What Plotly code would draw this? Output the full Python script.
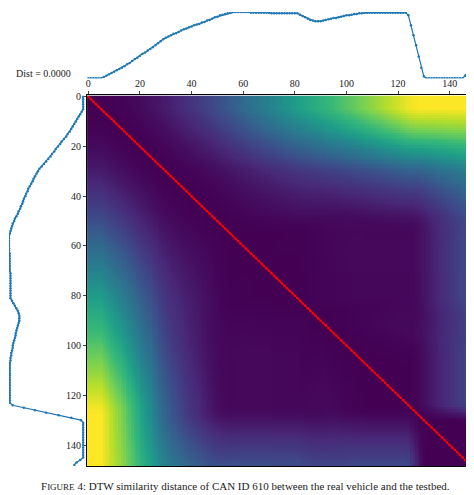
import numpy as np
import plotly.graph_objects as go

# signal (149 samples, normalised 0..1)
signal = [
    0, 0, 0, 0, 0, 0, 0.02, 0.04, 0.06, 0.08,
    0.10, 0.12, 0.14, 0.16, 0.18, 0.21, 0.23, 0.26, 0.29, 0.31,
    0.34, 0.37, 0.39, 0.42, 0.44, 0.47, 0.50, 0.53, 0.56, 0.59,
    0.61, 0.63, 0.65, 0.67, 0.68, 0.70, 0.72, 0.74, 0.75, 0.77,
    0.78, 0.80, 0.81, 0.82, 0.84, 0.85, 0.87, 0.88, 0.90, 0.92,
    0.93, 0.95, 0.96, 0.97, 0.98, 0.99, 1.0, 1.0, 1.0, 1.0,
    1.0, 1.0, 1.0, 0.99, 0.99, 0.99, 0.99, 0.99, 0.99, 0.99,
    0.99, 0.98, 0.98, 0.98, 0.98, 0.98, 0.98, 0.98, 0.98, 0.98,
    0.98, 0.98, 0.96, 0.94, 0.92, 0.90, 0.88, 0.87, 0.86, 0.86,
    0.86, 0.87, 0.88, 0.89, 0.90, 0.91, 0.91, 0.92, 0.93, 0.94,
    0.95, 0.95, 0.96, 0.97, 0.97, 0.98, 0.98, 0.99, 0.99, 0.99,
    0.99, 0.99, 0.99, 0.99, 0.99, 0.99, 0.99, 0.99, 0.99, 0.99,
    0.99, 0.99, 0.99, 0.99, 0.95, 0.80, 0.65, 0.50, 0.33, 0.16,
    0.03, 0, 0, 0, 0, 0, 0, 0, 0, 0,
    0, 0, 0, 0, 0, 0, 0.04, 0.09, 0.12,
]
dist_label = "Dist = 0.0000"
caption = ("F<span style='font-size:9px'>IGURE</span> 4: DTW similarity distance "
           "of CAN ID 610 between the real vehicle and the testbed.")

s = np.array(signal)
n = len(s)
idx = np.arange(n)

# accumulated DTW cost matrix of the signal against itself
local = np.abs(s[:, None] - s[None, :])
acc = np.zeros((n, n))
for i in range(n):
    for j in range(n):
        if i == 0 and j == 0:
            prev = 0
        elif i == 0:
            prev = acc[i, j - 1]
        elif j == 0:
            prev = acc[i - 1, j]
        else:
            prev = min(acc[i - 1, j], acc[i, j - 1], acc[i - 1, j - 1])
        acc[i, j] = local[i, j] + prev

blue = "#1f77b4"
fig = go.Figure()
fig.add_trace(go.Heatmap(z=acc, x=idx, y=idx, colorscale="Viridis",
                         showscale=False, xaxis="x", yaxis="y"))
fig.add_trace(go.Scatter(x=idx, y=idx, mode="lines+markers",
                         line=dict(color="red", width=1.2),
                         marker=dict(size=2.5, color="red"),
                         xaxis="x", yaxis="y"))
fig.add_trace(go.Scatter(x=idx, y=s, mode="lines+markers",
                         line=dict(color=blue, width=1.2),
                         marker=dict(size=2.5, color=blue),
                         xaxis="x2", yaxis="y2"))
fig.add_trace(go.Scatter(x=s, y=idx, mode="lines+markers",
                         line=dict(color=blue, width=1.2),
                         marker=dict(size=2.5, color=blue),
                         xaxis="x3", yaxis="y3"))

tickfont = dict(family="Liberation Serif", size=10, color="#222")
fig.update_layout(
    width=474, height=495, showlegend=False,
    margin=dict(l=0, r=0, t=0, b=0),
    plot_bgcolor="rgba(0,0,0,0)", paper_bgcolor="white",
    xaxis=dict(domain=[0.165, 0.978], side="top", range=[-0.5, n - 0.5],
               tickvals=list(range(0, 141, 20)), ticks="outside", ticklen=3,
               tickfont=tickfont, showgrid=False, zeroline=False,
               showline=True, linecolor="black", mirror=True),
    yaxis=dict(domain=[0.075, 0.83], range=[n - 0.5, -0.5],
               tickvals=list(range(0, 141, 20)), ticks="outside", ticklen=3,
               tickfont=tickfont, showgrid=False, zeroline=False,
               showline=True, linecolor="black", mirror=True),
    xaxis2=dict(domain=[0.165, 0.978], range=[-0.5, n - 0.5], visible=False,
                anchor="y2"),
    yaxis2=dict(domain=[0.865, 1.0], range=[0.0, 1.0], visible=False,
                anchor="x2"),
    xaxis3=dict(domain=[0.0, 0.16], range=[1.0, -0.02], visible=False,
                anchor="y3"),
    yaxis3=dict(domain=[0.075, 0.83], range=[n - 0.5, -0.5], visible=False,
                anchor="x3"),
    annotations=[
        dict(text=dist_label, x=0.01, y=0.874, xref="paper", yref="paper",
             xanchor="left", yanchor="middle", showarrow=False,
             font=dict(family="Liberation Serif", size=10, color="#222")),
        dict(text=caption, x=0.5, y=0.018, xref="paper", yref="paper",
             xanchor="center", yanchor="bottom", showarrow=False,
             font=dict(family="Liberation Serif", size=11, color="#222")),
    ],
)

fig.write_html("out.html")
